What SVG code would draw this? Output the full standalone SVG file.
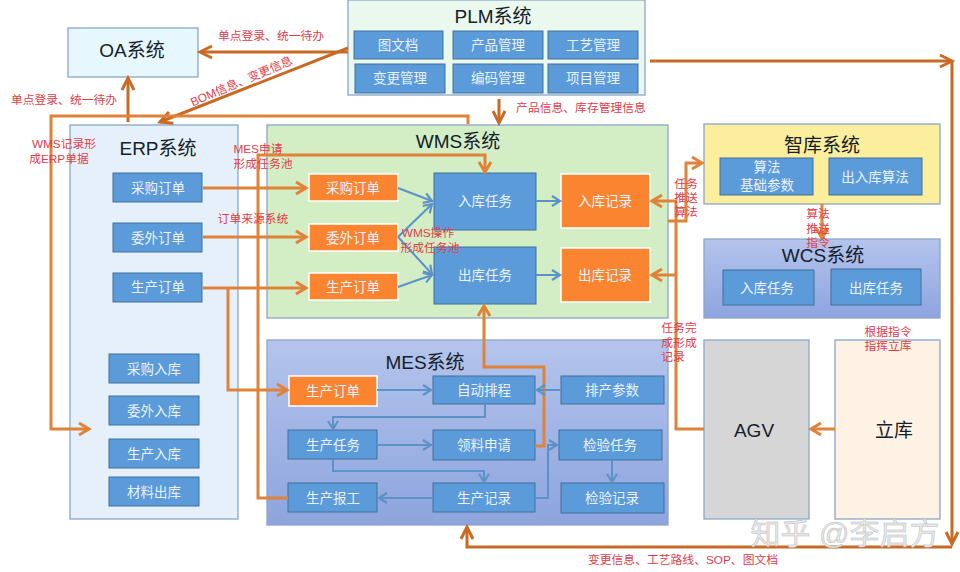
<svg xmlns="http://www.w3.org/2000/svg" width="960" height="572" viewBox="0 0 960 572">
<defs>
<linearGradient id="gb" x1="0" y1="0" x2="0" y2="1"><stop offset="0" stop-color="#b4c4ec"/><stop offset="1" stop-color="#8da4de"/></linearGradient>
<marker id="ao" viewBox="0 0 14 14" refX="12" refY="7" markerWidth="14" markerHeight="14" markerUnits="userSpaceOnUse" orient="auto" overflow="visible"><path d="M2 1L12 7L2 13" fill="none" stroke="#e08238" stroke-width="3"/></marker>
<marker id="ad" viewBox="0 0 16 16" refX="14" refY="8" markerWidth="16" markerHeight="16" markerUnits="userSpaceOnUse" orient="auto" overflow="visible"><path d="M2 2L14 8L2 14" fill="none" stroke="#c96a24" stroke-width="3"/></marker>
<marker id="ab" viewBox="0 0 12 12" refX="10" refY="6" markerWidth="12" markerHeight="12" markerUnits="userSpaceOnUse" orient="auto" overflow="visible"><path d="M2 1L10 6L2 11" fill="none" stroke="#5b93c9" stroke-width="2.2"/></marker>
</defs>
<style>
text{font-family:"Liberation Sans","Noto Sans CJK SC",sans-serif;text-anchor:middle}
.t{font-size:19px;fill:#15202b}
.w{font-size:13.5px;fill:#e8f2fb}
.r{font-size:11.8px;fill:#e23c4a}
.s{stroke:#8aa6c8;stroke-width:1.3}
.b{fill:#5b9bd9;stroke:#41719c;stroke-width:1}
.o{fill:#fb8430;stroke:#fff;stroke-width:1.5}
.co{fill:none;stroke:#e08238;stroke-width:3}
.cd{fill:none;stroke:#c96a24;stroke-width:3}
.cb{fill:none;stroke:#5b93c9;stroke-width:2}
</style>
<g id="oa"><rect class="s" x="68" y="28" width="130" height="49" fill="#e6f7fd"/><text class="t" x="132" y="57">OA系统</text></g>
<g id="plm"><rect class="s" x="348" y="0" width="297" height="95" fill="#eaf8ee"/><text class="t" x="493" y="23">PLM系统</text>
<rect class="b" x="354" y="31" width="89" height="28"/><text class="w" x="398" y="50">图文档</text>
<rect class="b" x="453" y="31" width="90" height="28"/><text class="w" x="498" y="50">产品管理</text>
<rect class="b" x="548" y="31" width="90" height="28"/><text class="w" x="593" y="50">工艺管理</text>
<rect class="b" x="355" y="64" width="90" height="29"/><text class="w" x="400" y="83">变更管理</text>
<rect class="b" x="453" y="64" width="90" height="29"/><text class="w" x="498" y="83">编码管理</text>
<rect class="b" x="548" y="64" width="90" height="29"/><text class="w" x="593" y="83">项目管理</text></g>
<g id="erp"><rect class="s" x="70" y="125" width="168" height="394" fill="#e6f0fb"/><text class="t" x="158" y="155">ERP系统</text>
<rect class="b" x="113" y="173" width="89" height="29"/><text class="w" x="158" y="193">采购订单</text>
<rect class="b" x="113" y="223" width="89" height="29"/><text class="w" x="158" y="243">委外订单</text>
<rect class="b" x="113" y="273" width="89" height="29"/><text class="w" x="158" y="292">生产订单</text>
<rect class="b" x="109" y="354" width="90" height="29"/><text class="w" x="154" y="374">采购入库</text>
<rect class="b" x="109" y="396" width="90" height="29"/><text class="w" x="154" y="416">委外入库</text>
<rect class="b" x="109" y="439" width="90" height="29"/><text class="w" x="154" y="459">生产入库</text>
<rect class="b" x="109" y="477" width="90" height="29"/><text class="w" x="154" y="497">材料出库</text></g>
<g id="wms"><rect class="s" x="267" y="125" width="401" height="193" fill="#d3edc5"/><text class="t" x="458" y="148">WMS系统</text>
<rect class="o" x="309" y="174" width="89" height="27"/><text class="w" x="353" y="193">采购订单</text>
<rect class="o" x="309" y="224" width="89" height="27"/><text class="w" x="353" y="243">委外订单</text>
<rect class="o" x="309" y="273" width="89" height="27"/><text class="w" x="353" y="292">生产订单</text>
<rect class="b" x="434" y="173" width="102" height="57"/><text class="w" x="485" y="206">入库任务</text>
<rect class="b" x="434" y="247" width="102" height="57"/><text class="w" x="485" y="280">出库任务</text>
<rect class="o" x="561" y="174" width="89" height="54"/><text class="w" x="605" y="206">入库记录</text>
<rect class="o" x="561" y="248" width="89" height="54"/><text class="w" x="605" y="280">出库记录</text></g>
<g id="zhiku"><rect class="s" x="704" y="124" width="236" height="80" fill="#fbee9c"/><text class="t" x="822" y="152">智库系统</text>
<rect class="b" x="720" y="158" width="93" height="37"/><text class="w"><tspan x="767" y="172">算法</tspan><tspan x="767" y="190">基础参数</tspan></text>
<rect class="b" x="829" y="158" width="93" height="37"/><text class="w" x="875" y="182">出入库算法</text></g>
<g id="wcs"><rect class="s" x="704" y="239" width="236" height="79" fill="url(#gb)"/><text class="t" x="823" y="262">WCS系统</text>
<rect class="b" x="723" y="270" width="91" height="35"/><text class="w" x="767" y="293">入库任务</text>
<rect class="b" x="831" y="269" width="90" height="36"/><text class="w" x="876" y="293">出库任务</text></g>
<g id="mes"><rect class="s" x="267" y="340" width="401" height="185" fill="url(#gb)"/><text class="t" x="425" y="369">MES系统</text>
<rect class="o" x="289" y="376" width="88" height="30"/><text class="w" x="333" y="396">生产订单</text>
<rect class="b" x="433" y="376" width="102" height="28"/><text class="w" x="484" y="395">自动排程</text>
<rect class="b" x="561" y="376" width="103" height="28"/><text class="w" x="612" y="395">排产参数</text>
<rect class="b" x="288" y="430" width="89" height="29"/><text class="w" x="333" y="450">生产任务</text>
<rect class="b" x="433" y="430" width="102" height="30"/><text class="w" x="484" y="450">领料申请</text>
<rect class="b" x="559" y="430" width="103" height="30"/><text class="w" x="610" y="450">检验任务</text>
<rect class="b" x="288" y="483" width="89" height="29"/><text class="w" x="333" y="503">生产报工</text>
<rect class="b" x="433" y="483" width="102" height="29"/><text class="w" x="484" y="503">生产记录</text>
<rect class="b" x="561" y="483" width="103" height="30"/><text class="w" x="612" y="503">检验记录</text></g>
<g id="agv"><rect class="s" x="704" y="340" width="105" height="179" fill="#d6d6d6"/><text class="t" x="754" y="437">AGV</text></g>
<g id="liku"><rect class="s" x="835" y="340" width="105" height="179" fill="#fdf2e3"/><text class="t" x="894" y="437">立库</text></g>
<g id="connectors">
<path class="cd" d="M348 52H200" marker-end="url(#ad)"/>
<path class="cd" d="M348 48L160 122" marker-end="url(#ad)"/>
<path class="cd" d="M128 122V78" marker-end="url(#ad)"/>
<path class="co" d="M468 124V116H51V429H89" marker-end="url(#ao)"/>
<path class="cd" d="M499 99V123" marker-end="url(#ad)"/>
<path class="cd" d="M650 61H952" marker-end="url(#ad)"/>
<path class="cd" d="M952 62V544" marker-end="url(#ad)"/>
<path class="cd" d="M952 547H467V527" marker-end="url(#ad)"/>
<path class="co" d="M203 188H306" marker-end="url(#ao)"/>
<path class="co" d="M203 237H306" marker-end="url(#ao)"/>
<path class="co" d="M203 288H306" marker-end="url(#ao)"/>
<path class="co" d="M228 288V390H287" marker-end="url(#ao)"/>
<path class="co" d="M288 498H258V155H485V172" marker-end="url(#ao)"/>
<path class="cb" d="M398 188L432 201" marker-end="url(#ab)"/>
<path class="cb" d="M398 237L432 204" marker-end="url(#ab)"/>
<path class="cb" d="M398 237L432 274" marker-end="url(#ab)"/>
<path class="cb" d="M398 287L432 275" marker-end="url(#ab)"/>
<path class="cb" d="M536 201H560" marker-end="url(#ab)"/>
<path class="cb" d="M536 275H560" marker-end="url(#ab)"/>
<path class="co" d="M535 446H544V367H484V306" marker-end="url(#ao)"/>
<path class="co" d="M668 221H686V163H702" marker-end="url(#ao)"/>
<path class="co" d="M676 201H652" marker-end="url(#ao)"/>
<path class="co" d="M676 275H652" marker-end="url(#ao)"/>
<path class="co" d="M704 429H676V201"/>
<path class="co" d="M822 204V238" marker-end="url(#ao)"/>
<path class="co" d="M835 429H811" marker-end="url(#ao)"/>
<path class="cb" d="M377 390H431" marker-end="url(#ab)"/>
<path class="cb" d="M561 390H537" marker-end="url(#ab)"/>
<path class="cb" d="M485 405V417H333V429" marker-end="url(#ab)"/>
<path class="cb" d="M377 445H431" marker-end="url(#ab)"/>
<path class="cb" d="M333 460V471H484V482" marker-end="url(#ab)"/>
<path class="cb" d="M433 498H379" marker-end="url(#ab)"/>
<path class="cb" d="M535 498H548V445H557" marker-end="url(#ab)"/>
<path class="cb" d="M612 461V482" marker-end="url(#ab)"/>
</g>
<g id="labels">
<text class="r" x="271" y="40">单点登录、统一待办</text>
<text class="r" transform="translate(243 85) rotate(-23)">BOM信息、变更信息</text>
<text class="r" x="64" y="104">单点登录、统一待办</text>
<text class="r"><tspan x="64" y="148">WMS记录形</tspan><tspan x="59" y="163">成ERP单据</tspan></text>
<text class="r"><tspan x="258" y="153">MES申请</tspan><tspan x="263" y="168">形成任务池</tspan></text>
<text class="r" x="253" y="223">订单来源系统</text>
<text class="r"><tspan x="428" y="237">WMS操作</tspan><tspan x="430" y="252">形成任务池</tspan></text>
<text class="r" x="581" y="112">产品信息、库存管理信息</text>
<text class="r"><tspan x="686" y="188">任务</tspan><tspan x="686" y="202">推送</tspan><tspan x="686" y="216">算法</tspan></text>
<text class="r"><tspan x="818" y="218">算法</tspan><tspan x="818" y="233">推送</tspan><tspan x="818" y="247">指令</tspan></text>
<text class="r"><tspan x="679" y="332">任务完</tspan><tspan x="679" y="347">成形成</tspan><tspan x="673" y="361">记录</tspan></text>
<text class="r"><tspan x="888" y="336">根据指令</tspan><tspan x="888" y="350">指挥立库</tspan></text>
<text class="r" x="683" y="564">变更信息、工艺路线、SOP、图文档</text>
<text x="845" y="544" style="font-size:30px;fill:#e8e8e8;stroke:#bbb;stroke-width:.5">知乎 @李启方</text>
</g>
</svg>
